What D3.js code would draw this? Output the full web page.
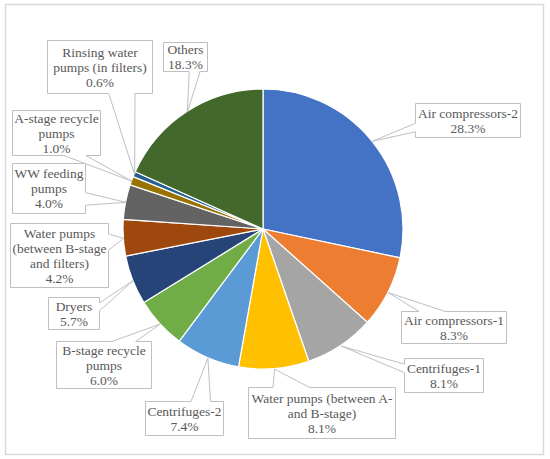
<!DOCTYPE html>
<html>
<head>
<meta charset="utf-8">
<script src="https://cdn.jsdelivr.net/npm/d3@7"></script>
<style>
  html, body { margin: 0; padding: 0; background: #fff; }
</style>
</head>
<body>
<div id="chart"></div>
<script>
/* Energy share pie with Excel-style callout labels */
var names = ['Air compressors-2', 'Air compressors-1', 'Centrifuges-1',
  'Water pumps (between A- and B-stage)', 'Centrifuges-2', 'B-stage recycle pumps',
  'Dryers', 'Water pumps (between B-stage and filters)', 'WW feeding pumps',
  'A-stage recycle pumps', 'Rinsing water pumps (in filters)', 'Others'];
var values = [28.3, 8.3, 8.1, 8.1, 7.4, 6.0, 5.7, 4.2, 4.0, 1.0, 0.6, 18.3];
var colors = ['#4472C4', '#ED7D31', '#A5A5A5', '#FFC000', '#5B9BD5', '#70AD47',
  '#264478', '#9E480E', '#636363', '#997300', '#255E91', '#43682B'];
var labelLines = [
  ['Air compressors-2'], ['Air compressors-1'], ['Centrifuges-1'],
  ['Water pumps (between A-', 'and B-stage)'], ['Centrifuges-2'],
  ['B-stage recycle', 'pumps'], ['Dryers'],
  ['Water pumps', '(between B-stage', 'and filters)'], ['WW feeding', 'pumps'],
  ['A-stage recycle', 'pumps'], ['Rinsing water', 'pumps (in filters)'], ['Others']
];
// label box placement [x, y, w, h] (manual placement as in the original)
var boxes = [
  [415, 103, 105, 34], [401, 311, 105, 32], [404, 358, 79, 34],
  [248, 387, 147, 51], [145, 401, 78, 34], [56, 341, 95, 47],
  [48, 297, 51, 32], [10, 223, 98, 64], [12, 163, 73, 50],
  [12, 110, 88, 45], [47, 40, 105, 53], [163, 42, 44, 29]
];

var FONT = "Liberation Serif, DejaVu Serif, serif";
var width = 550, height = 459;
var cx = 263, cy = 229, radius = 140;

var svg = d3.select('#chart').append('svg')
  .attr('width', width)
  .attr('height', height)
  .style('font-family', FONT);

// outer frame
svg.append('rect')
  .attr('x', 5.5).attr('y', 4.5)
  .attr('width', 538).attr('height', 450)
  .attr('fill', '#fff')
  .attr('stroke', '#D9D9D9')
  .attr('stroke-width', 1.5);

var pie = d3.pie().sort(null).value(function(d) { return d; });
var arcs = pie(values);
var arc = d3.arc().innerRadius(0).outerRadius(radius);

var g = svg.append('g').attr('transform', 'translate(' + cx + ',' + cy + ')');
g.selectAll('path')
  .data(arcs)
  .join('path')
  .attr('d', arc)
  .attr('fill', function(d, i) { return colors[i]; })
  .attr('stroke', '#fff')
  .attr('stroke-width', 1.2);

// callout path: box outline with a wedge pointing to the tip
function calloutPath(w, h, tx, ty) {
  var dxPos = tx - w / 2, dyPos = ty - h / 2;
  var dx = dxPos * h / w, dy = dyPos;
  var side = Math.abs(dx) > Math.abs(dy);
  var xa = dxPos < 0 ? w / 6 : 7 * w / 12, xb = dxPos < 0 ? 5 * w / 12 : 5 * w / 6;
  var ya = dyPos < 0 ? h / 6 : 7 * h / 12, yb = dyPos < 0 ? 5 * h / 12 : 5 * h / 6;
  var pts = [[0, 0]];
  if (!side && dy < 0) pts.push([xa, 0], [tx, ty], [xb, 0]);
  pts.push([w, 0]);
  if (side && dx > 0) pts.push([w, ya], [tx, ty], [w, yb]);
  pts.push([w, h]);
  if (!side && dy > 0) pts.push([xb, h], [tx, ty], [xa, h]);
  pts.push([0, h]);
  if (side && dx < 0) pts.push([0, yb], [tx, ty], [0, ya]);
  return 'M' + pts.map(function(p) { return p[0] + ',' + p[1]; }).join('L') + 'Z';
}

var labels = svg.append('g')
  .selectAll('g')
  .data(arcs)
  .join('g')
  .attr('transform', function(d, i) {
    return 'translate(' + (boxes[i][0] + 0.5) + ',' + (boxes[i][1] + 0.5) + ')';
  });

labels.append('path')
  .attr('d', function(d, i) {
    var b = boxes[i];
    var mid = (d.startAngle + d.endAngle) / 2;
    var tx = cx + radius * Math.sin(mid) - b[0];
    var ty = cy - radius * Math.cos(mid) - b[1];
    return calloutPath(b[2], b[3], tx, ty);
  })
  .attr('fill', '#fff')
  .attr('stroke', '#BFBFBF')
  .attr('stroke-width', 1);

labels.each(function(d, i) {
  var b = boxes[i];
  var lines = labelLines[i].concat([values[i].toFixed(1) + '%']);
  var lh = 15;
  var top = b[3] / 2 - (lines.length - 1) * lh / 2;
  d3.select(this).selectAll('text')
    .data(lines)
    .join('text')
    .attr('x', b[2] / 2)
    .attr('y', function(t, j) { return top + j * lh; })
    .attr('dy', '0.35em')
    .attr('text-anchor', 'middle')
    .style('font-family', FONT)
    .attr('font-size', '13.5px')
    .attr('fill', '#595959')
    .text(function(t) { return t; });
});
</script>
</body>
</html>
